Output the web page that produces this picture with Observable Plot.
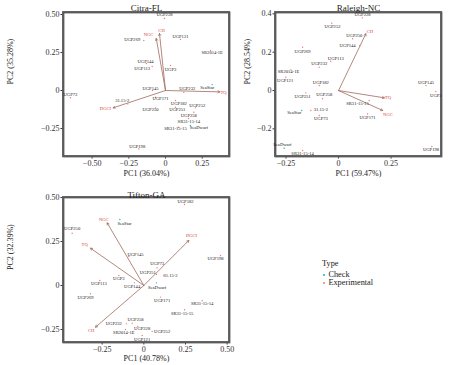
<!DOCTYPE html>
<html><head><meta charset="utf-8">
<script src="https://cdn.jsdelivr.net/npm/d3@7"></script>
<script src="https://cdn.jsdelivr.net/npm/@observablehq/plot@0.6"></script>
<style>
body{margin:0;background:#fff;font-family:"Liberation Serif",serif}
#fig{position:relative;width:474px;height:365px;background:#fff}
.panel{position:absolute}
#legend{position:absolute;left:322px;top:259.5px;font-size:8.3px;line-height:8.3px;color:#1a1a1a;font-family:"Liberation Serif",serif}
#legend .row{display:flex;align-items:center;height:8.3px;overflow:visible}
#legend .sw{width:2.4px;height:2.4px;border-radius:50%;margin:0 3px 0 1px}
</style></head><body><div id="fig"><div id="legend"></div></div>
<script>
const checkGenotypes = ["SeaStar", "SeaDwarf"];
const legendTitle = "Type";
const legendLabels = ["Check", "Experimental"];

const citraTitle = "Citra-FL";
const citraXLabel = "PC1 (36.04%)";
const citraYLabel = "PC2 (35.28%)";
const citraNames = ["UGP228","UGP121","UGP269","SR2014-1E","UGP144","UGP113","UGP3","UGP145","UGP232","SeaStar","UGP73","UGP171","31.15-2","UGP250","UGP182","UGP252","UGP251","UGP258","SR31-15-14","SR31-15-15","SeaDwarf","UGP198"];
const citraPC1 = [-0.007,0.102,-0.148,0.307,-0.130,-0.091,0.034,-0.089,0.125,0.318,-0.648,-0.068,-0.257,-0.068,0.068,0.204,0.068,0.193,0.157,0.089,0.170,-0.182];
const citraPC2 = [0.474,0.336,0.329,0.263,0.178,0.158,0.164,0.000,-0.011,0.039,-0.048,-0.044,-0.088,-0.114,-0.066,-0.114,-0.110,-0.143,-0.184,-0.241,-0.230,-0.384];
const citraLabPC1 = [-0.007,0.102,-0.227,0.318,-0.136,-0.159,0.034,-0.102,0.148,0.284,-0.648,-0.034,-0.295,-0.102,0.091,0.216,0.080,0.159,0.159,0.068,0.227,-0.193];
const citraLabPC2 = [0.500,0.355,0.334,0.252,0.191,0.143,0.136,0.015,0.015,0.018,-0.026,-0.051,-0.069,-0.125,-0.088,-0.099,-0.125,-0.164,-0.202,-0.252,-0.245,-0.368];
const citraVarNames = ["CH","NGC","TQ","DGCI"];
const citraVarPC1 = [-0.041,-0.063,0.370,-0.357];
const citraVarPC2 = [0.375,0.342,-0.009,-0.114];
const citraVarLabPC1 = [-0.027,-0.116,0.395,-0.409];
const citraVarLabPC2 = [0.395,0.368,-0.011,-0.116];
const citraXTicks = [-0.5,-0.25,0,0.25];
const citraYTicks = [-0.25,0,0.25,0.5];

const raleighTitle = "Raleigh-NC";
const raleighXLabel = "PC1 (59.47%)";
const raleighYLabel = "PC2 (28.54%)";
const raleighNames = ["UGP228","UGP252","UGP250","UGP144","UGP269","UGP113","UGP232","SR2014-1E","UGP121","UGP182","UGP145","UGP251","UGP258","UGP3","SR31-15-15","SeaStar","31.15-2","UGP171","UGP73","SeaDwarf","SR31-15-14","UGP198"];
const raleighPC1 = [0.114,-0.032,0.067,0.101,-0.171,-0.037,-0.092,-0.227,-0.251,-0.092,0.416,-0.156,-0.076,0.463,0.146,-0.175,-0.132,0.138,-0.092,-0.259,-0.171,0.444];
const raleighPC2 = [0.379,0.351,0.270,0.235,0.226,0.153,0.122,0.108,0.069,0.026,0.026,-0.012,-0.043,-0.005,-0.052,-0.104,-0.104,-0.122,-0.130,-0.301,-0.313,-0.292];
const raleighLabPC1 = [0.114,-0.029,0.075,0.043,-0.171,-0.013,-0.092,-0.238,-0.254,-0.084,0.416,-0.171,-0.068,0.463,0.090,-0.211,-0.084,0.138,-0.084,-0.267,-0.171,0.440];
const raleighLabPC2 = [0.396,0.334,0.287,0.235,0.205,0.168,0.139,0.101,0.052,0.043,0.043,-0.030,-0.022,-0.026,-0.069,-0.113,-0.099,-0.139,-0.148,-0.283,-0.327,-0.309];
const raleighVarNames = ["CH","TQ","NGC"];
const raleighVarPC1 = [0.130,0.218,0.210];
const raleighVarPC2 = [0.296,-0.038,-0.104];
const raleighVarLabPC1 = [0.149,0.235,0.235];
const raleighVarLabPC2 = [0.309,-0.038,-0.125];
const raleighXTicks = [-0.25,0,0.25];
const raleighYTicks = [-0.2,0,0.2,0.4];

const tiftonTitle = "Tifton-GA";
const tiftonXLabel = "PC1 (40.78%)";
const tiftonYLabel = "PC2 (32.39%)";
const tiftonNames = ["UGP182","SeaStar","UGP250","UGP145","UGP198","UGP73","UGP251","31.15-2","UGP3","UGP113","UGP144","SeaDwarf","UGP269","UGP171","SR31-15-14","SR31-15-15","UGP258","UGP232","UGP228","UGP252","SR2014-1E","UGP121"];
const tiftonPC1 = [0.244,-0.144,-0.430,-0.090,0.460,0.080,0.076,0.120,-0.150,-0.264,-0.056,0.076,-0.320,0.100,0.350,0.244,-0.070,-0.104,-0.036,0.050,-0.110,-0.010];
const tiftonPC2 = [0.460,0.375,0.297,0.165,0.170,0.100,0.063,0.057,0.057,0.028,0.015,0.015,-0.047,-0.066,-0.087,-0.138,-0.214,-0.218,-0.233,-0.261,-0.250,-0.284];
const tiftonLabPC1 = [0.250,-0.116,-0.430,-0.050,0.430,0.080,0.024,0.160,-0.150,-0.270,-0.070,0.080,-0.350,0.110,0.350,0.230,-0.050,-0.180,-0.010,0.110,-0.120,-0.010];
const tiftonLabPC2 = [0.477,0.351,0.322,0.174,0.155,0.123,0.072,0.057,0.041,0.010,-0.004,-0.010,-0.066,-0.085,-0.104,-0.161,-0.193,-0.218,-0.246,-0.261,-0.269,-0.307];
const tiftonVarNames = ["NGC","DGCI","TQ","CH"];
const tiftonVarPC1 = [-0.220,0.270,-0.320,-0.290];
const tiftonVarPC2 = [0.356,0.256,0.212,-0.237];
const tiftonVarLabPC1 = [-0.240,0.286,-0.355,-0.316];
const tiftonVarLabPC2 = [0.375,0.284,0.231,-0.256];
const tiftonXTicks = [-0.25,0,0.25,0.5];
const tiftonYTicks = [-0.25,0,0.25,0.5];

const typeColors = {Check: "#00BFC4", Experimental: "#F8766D"};
const fmt2 = d => d === 0 ? "0" : (d < 0 ? "\u2212" : "") + Math.abs(d).toFixed(2);
const fmt1 = d => d === 0 ? "0" : (d < 0 ? "\u2212" : "") + Math.abs(d).toFixed(1);

function rows(names, a, b, la, lb) {
  return names.map((n, i) => ({name: n, x: a[i], y: b[i], lx: la[i], ly: lb[i],
    type: checkGenotypes.includes(n) ? "Check" : "Experimental"}));
}

function panel(cfg) {
  const geno = rows(cfg.names, cfg.pc1, cfg.pc2, cfg.lpc1, cfg.lpc2);
  const vars = rows(cfg.vnames, cfg.vpc1, cfg.vpc2, cfg.vlpc1, cfg.vlpc2);
  const box = [{x1: cfg.xd[0], x2: cfg.xd[1], y1: cfg.yd[0], y2: cfg.yd[1]}];
  return Plot.plot({
    width: 237, height: cfg.height,
    marginLeft: cfg.ml, marginRight: cfg.mr, marginTop: 12, marginBottom: cfg.mb,
    style: {fontFamily: "Liberation Serif, serif", fontSize: "8px", color: "#333", background: "white", overflow: "visible"},
    x: {domain: cfg.xd, ticks: cfg.xt, tickFormat: cfg.xf, label: null, tickSize: 2.5, tickPadding: 1.5},
    y: {domain: cfg.yd, ticks: cfg.yt, tickFormat: cfg.yf, label: null, tickSize: 2.5, tickPadding: 1.5},
    marks: [
      Plot.frame({stroke: "#5a5a5a", strokeWidth: 1.8}),
      Plot.rect(box, {x1: "x1", x2: "x2", y1: "y1", y2: "y2", fill: "none", stroke: "#5a5a5a", strokeWidth: 1.8}),
      Plot.arrow(vars, {x1: d => 0, y1: d => 0, x2: "x", y2: "y", stroke: "#a06a5e", strokeWidth: 0.8, headLength: 4}),
      Plot.dot(geno, {x: "x", y: "y", r: 0.7, fill: d => typeColors[d.type], stroke: "none"}),
      Plot.text(geno, {x: "lx", y: "ly", text: "name", fontSize: 4.6, fill: "#222"}),
      Plot.text(vars, {x: "lx", y: "ly", text: "name", fontSize: 4.6, fill: "#d43d35"}),
      Plot.text([cfg.title], {text: d => d, frameAnchor: "top", dy: cfg.tdy, fontSize: 9, fill: "#1a1a1a"}),
      Plot.text([cfg.xlab], {text: d => d, frameAnchor: "bottom", dy: cfg.xldy, fontSize: 8, fill: "#1a1a1a"}),
      Plot.text([cfg.ylab], {text: d => d, frameAnchor: "left", dx: cfg.yldx, rotate: -90, fontSize: 8, fill: "#1a1a1a"})
    ]
  });
}

const fig = document.getElementById("fig");
function place(node, left, top) {
  node.classList.add("panel");
  node.style.left = left + "px";
  node.style.top = top + "px";
  fig.appendChild(node);
}

place(panel({
  names: citraNames, pc1: citraPC1, pc2: citraPC2, lpc1: citraLabPC1, lpc2: citraLabPC2,
  vnames: citraVarNames, vpc1: citraVarPC1, vpc2: citraVarPC2, vlpc1: citraVarLabPC1, vlpc2: citraVarLabPC2,
  height: 185, ml: 63, mr: 8, mb: 29,
  xd: [-0.695, 0.436], yd: [-0.434, 0.513], xt: citraXTicks, yt: citraYTicks, xf: fmt2, yf: fmt2,
  title: citraTitle, xlab: citraXLabel, ylab: citraYLabel, tdy: -7.5, xldy: 19, yldx: -53
}), 0, 0);

place(panel({
  names: raleighNames, pc1: raleighPC1, pc2: raleighPC2, lpc1: raleighLabPC1, lpc2: raleighLabPC2,
  vnames: raleighVarNames, vpc1: raleighVarPC1, vpc2: raleighVarPC2, vlpc1: raleighVarLabPC1, vlpc2: raleighVarLabPC2,
  height: 185, ml: 38, mr: 33, mb: 29,
  xd: [-0.300, 0.490], yd: [-0.344, 0.407], xt: raleighXTicks, yt: raleighYTicks, xf: fmt2, yf: fmt1,
  title: raleighTitle, xlab: raleighXLabel, ylab: raleighYLabel, tdy: -7.5, xldy: 19, yldx: -28
}), 237, 0);

place(panel({
  names: tiftonNames, pc1: tiftonPC1, pc2: tiftonPC2, lpc1: tiftonLabPC1, lpc2: tiftonLabPC2,
  vnames: tiftonVarNames, vpc1: tiftonVarPC1, vpc2: tiftonVarPC2, vlpc1: tiftonVarLabPC1, vlpc2: tiftonVarLabPC2,
  height: 180, ml: 63, mr: 8, mb: 23,
  xd: [-0.482, 0.514], yd: [-0.324, 0.500], xt: tiftonXTicks, yt: tiftonYTicks, xf: fmt2, yf: fmt2,
  title: tiftonTitle, xlab: tiftonXLabel, ylab: tiftonYLabel, tdy: -6, xldy: 18, yldx: -53
}), 0, 185);

const legend = document.getElementById("legend");
const t = document.createElement("div");
t.textContent = legendTitle;
t.style.marginBottom = "3px";
legend.appendChild(t);
legendLabels.forEach(l => {
  const r = document.createElement("div");
  r.className = "row";
  const s = document.createElement("span");
  s.className = "sw";
  s.style.background = typeColors[l];
  const tx = document.createElement("span");
  tx.textContent = l;
  r.appendChild(s); r.appendChild(tx);
  legend.appendChild(r);
});
fig.appendChild(legend);
</script>
</body></html>
